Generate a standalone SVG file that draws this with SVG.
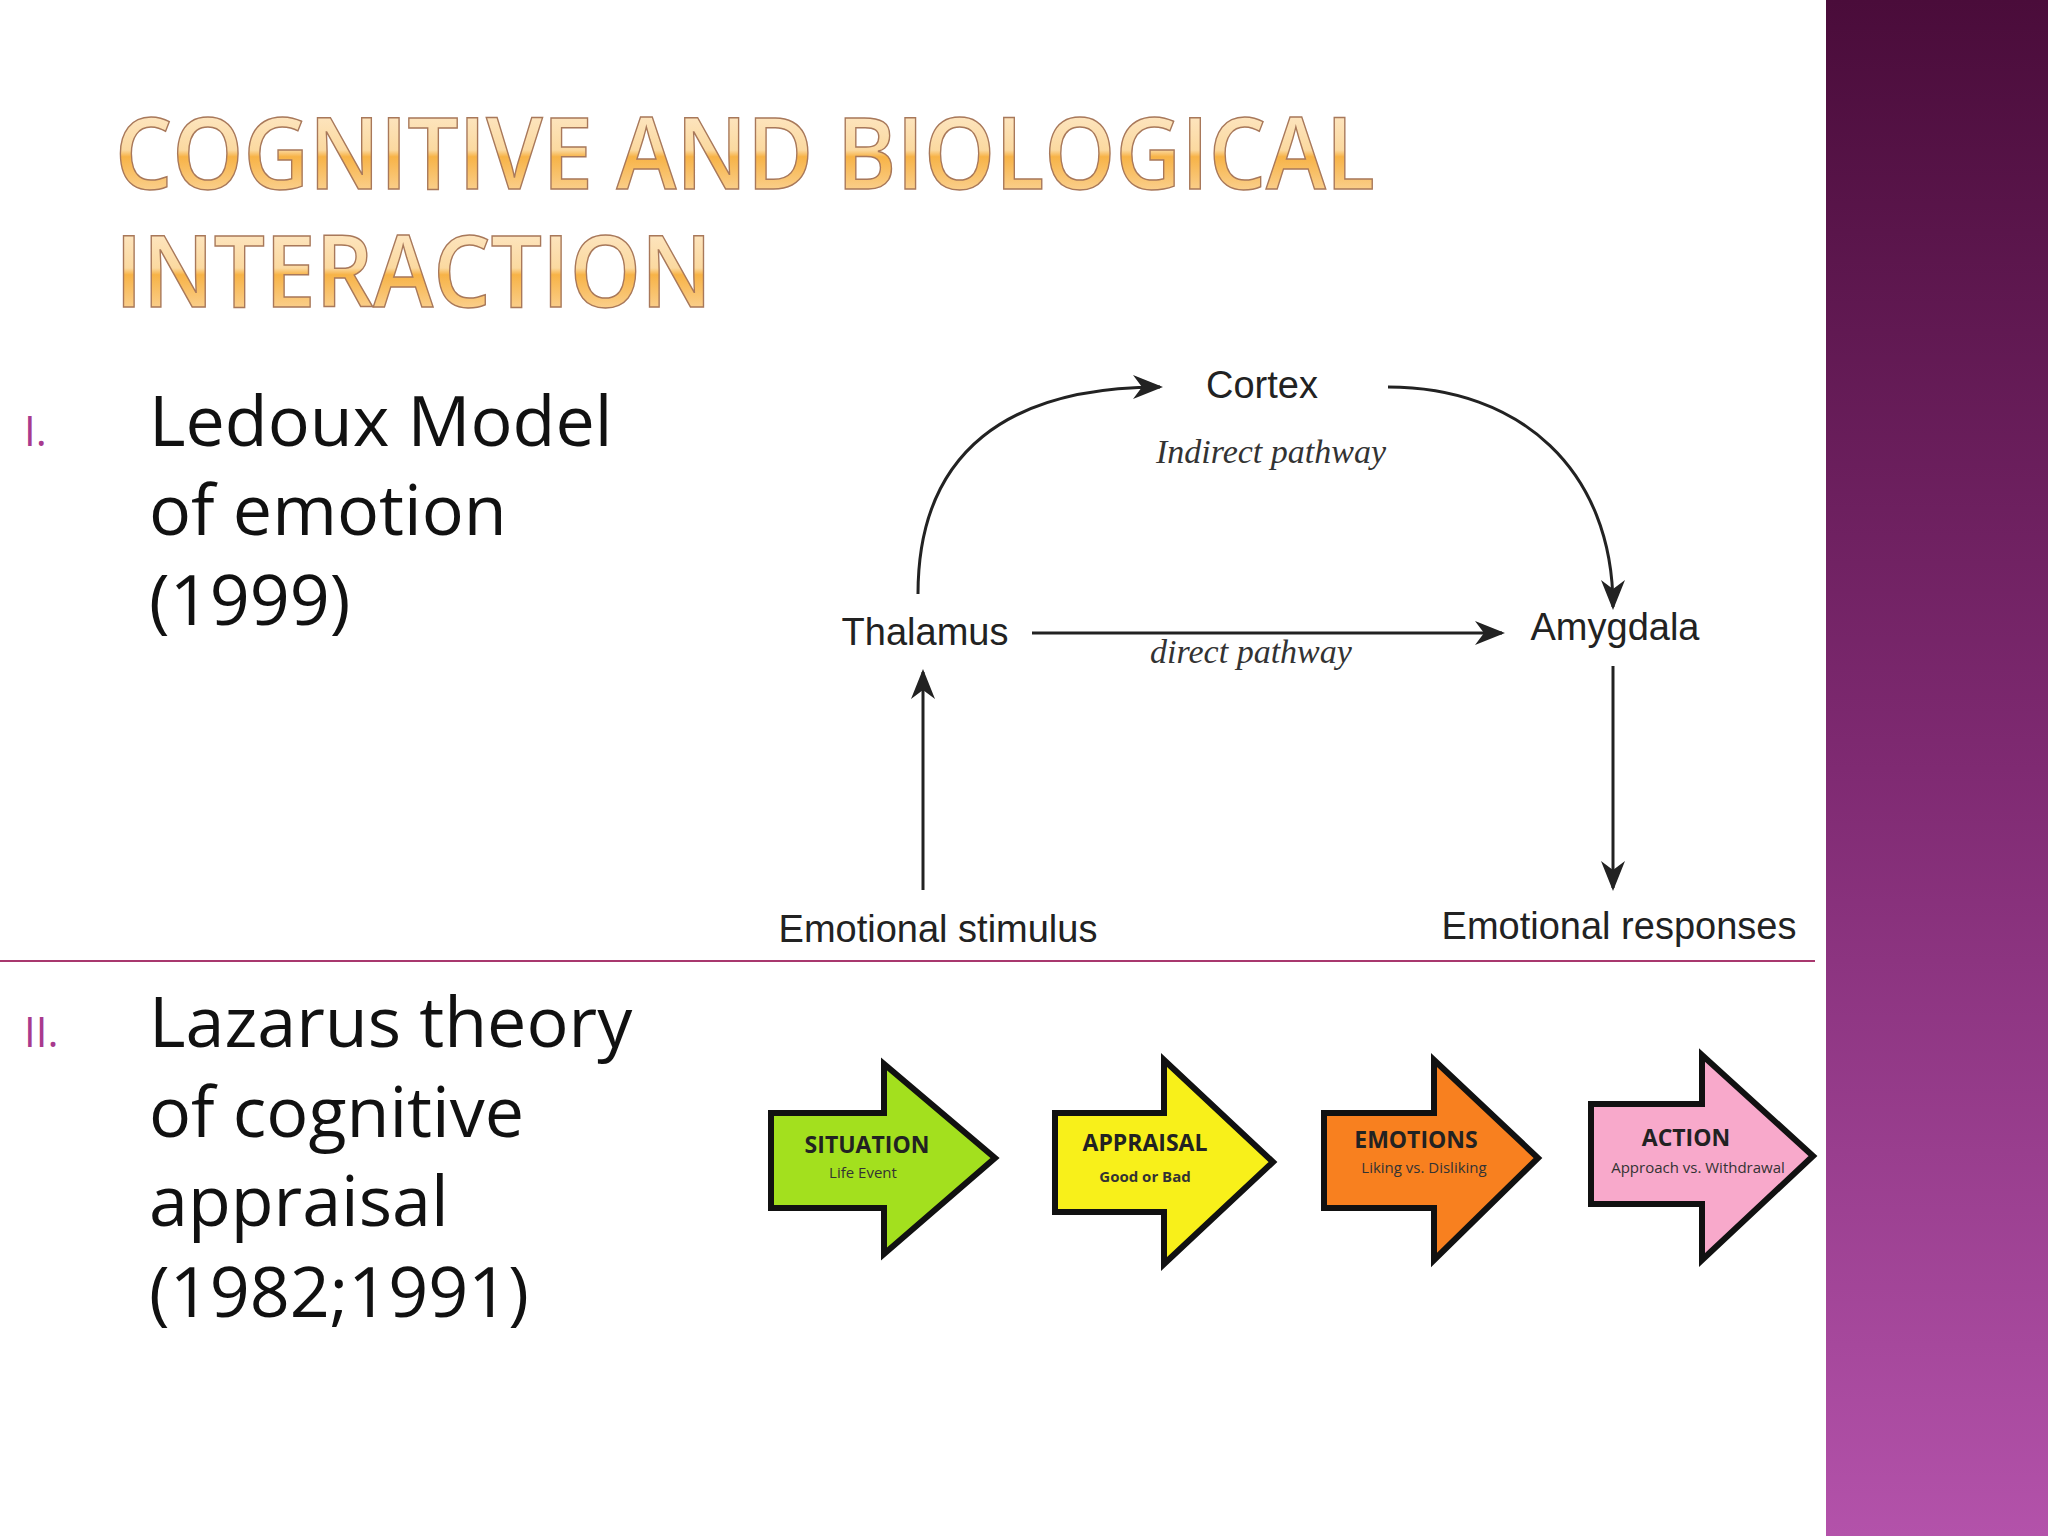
<svg xmlns="http://www.w3.org/2000/svg" width="2048" height="1536" viewBox="0 0 2048 1536">
<defs>
<linearGradient id="band" x1="0" y1="0" x2="0" y2="1"><stop offset="0" stop-color="#4a0c3a"/><stop offset="0.5" stop-color="#7f2a72"/><stop offset="1" stop-color="#b352aa"/></linearGradient>
<linearGradient id="tg" x1="0" y1="0" x2="0" y2="1"><stop offset="0" stop-color="#fff0dc"/><stop offset="0.5" stop-color="#fbd9a0"/><stop offset="0.55" stop-color="#f7b347"/><stop offset="1" stop-color="#fde6c4"/></linearGradient>
<marker id="ah2" viewBox="0 0 10 10" refX="9" refY="5" markerWidth="30" markerHeight="30" markerUnits="userSpaceOnUse" orient="auto"><path d="M0,1 L10,5 L0,9 L3,5 Z" fill="#222"/></marker>
<style>
.title{font-family:"Open Sans",sans-serif;font-size:100px;font-weight:600;fill:url(#tg);stroke:#a8785a;stroke-width:1.5}
.body{font-family:"Open Sans",sans-serif;font-size:70px;fill:#111}
.num{font-family:"Open Sans",sans-serif;font-size:42px;fill:#a83a8e}
.lab{font-family:"Liberation Sans",sans-serif;font-size:38px;fill:#222}
.ital{font-family:"Liberation Serif",serif;font-style:italic;font-size:34px;fill:#333}
.conn{fill:none;stroke:#222;stroke-width:3}
.arr{stroke:#111;stroke-width:6;stroke-linejoin:miter}
.ah{font-family:"Open Sans",sans-serif;font-weight:bold;font-size:23px;fill:#222}
.as{font-family:"Open Sans",sans-serif;font-size:15px;fill:#333}
</style>
</defs>
<rect width="2048" height="1536" fill="#ffffff"/>
<rect x="1826" y="0" width="222" height="1536" fill="url(#band)"/>
<text class="title" x="115" y="189" textLength="1260" lengthAdjust="spacingAndGlyphs">COGNITIVE AND BIOLOGICAL</text>
<text class="title" x="115" y="307" textLength="597" lengthAdjust="spacingAndGlyphs">INTERACTION</text>
<text class="num" x="24" y="446">I.</text>
<text class="body" x="149" y="446">Ledoux Model</text>
<text class="body" x="149" y="535">of emotion</text>
<text class="body" x="149" y="625">(1999)</text>
<line x1="0" y1="961" x2="1815" y2="961" stroke="#a8386e" stroke-width="2"/>
<text class="num" x="24" y="1047">II.</text>
<text class="body" x="149" y="1047">Lazarus theory</text>
<text class="body" x="149" y="1137">of cognitive</text>
<text class="body" x="149" y="1226">appraisal</text>
<text class="body" x="149" y="1317">(1982;1991)</text>
<g id="connectors">
<path class="conn" d="M918,594 C918,450 1010,387 1160,387" marker-end="url(#ah2)"/>
<path class="conn" d="M1388,387 C1520,387 1613,470 1613,607" marker-end="url(#ah2)"/>
<line class="conn" x1="1032" y1="633" x2="1502" y2="633" marker-end="url(#ah2)"/>
<line class="conn" x1="923" y1="890" x2="923" y2="672" marker-end="url(#ah2)"/>
<line class="conn" x1="1613" y1="666" x2="1613" y2="888" marker-end="url(#ah2)"/>
</g>
<g id="cortex"><text class="lab" x="1262" y="398" text-anchor="middle">Cortex</text></g>
<text class="ital" x="1271" y="463" text-anchor="middle">Indirect pathway</text>
<g id="thalamus"><text class="lab" x="925" y="645" text-anchor="middle">Thalamus</text></g>
<text class="ital" x="1251" y="663" text-anchor="middle">direct pathway</text>
<g id="amygdala"><text class="lab" x="1615" y="640" text-anchor="middle">Amygdala</text></g>
<g id="stimulus"><text class="lab" x="938" y="942" text-anchor="middle">Emotional stimulus</text></g>
<g id="responses"><text class="lab" x="1619" y="939" text-anchor="middle">Emotional responses</text></g>
<g id="situation">
<path class="arr" fill="#a3e01e" d="M771,1113 H884 V1064 L995,1158 L884,1254 V1208 H771 Z"/>
<text class="ah" x="867" y="1153" text-anchor="middle">SITUATION</text>
<text class="as" x="863" y="1178" text-anchor="middle">Life Event</text>
</g>
<g id="appraisal">
<path class="arr" fill="#f8f01a" d="M1055,1113 H1164 V1060 L1273,1162 L1164,1264 V1212 H1055 Z"/>
<text class="ah" x="1145" y="1151" text-anchor="middle">APPRAISAL</text>
<text class="as" x="1145" y="1182" text-anchor="middle" font-weight="bold">Good or Bad</text>
</g>
<g id="emotions">
<path class="arr" fill="#f8801f" d="M1324,1113 H1434 V1060 L1538,1158 L1434,1260 V1208 H1324 Z"/>
<text class="ah" x="1416" y="1148" text-anchor="middle">EMOTIONS</text>
<text class="as" x="1424" y="1173" text-anchor="middle">Liking vs. Disliking</text>
</g>
<g id="action">
<path class="arr" fill="#f8a9cb" d="M1591,1104 H1702 V1055 L1813,1156 L1702,1260 V1204 H1591 Z"/>
<text class="ah" x="1686" y="1146" text-anchor="middle">ACTION</text>
<text class="as" x="1698" y="1173" text-anchor="middle">Approach vs. Withdrawal</text>
</g>
</svg>
